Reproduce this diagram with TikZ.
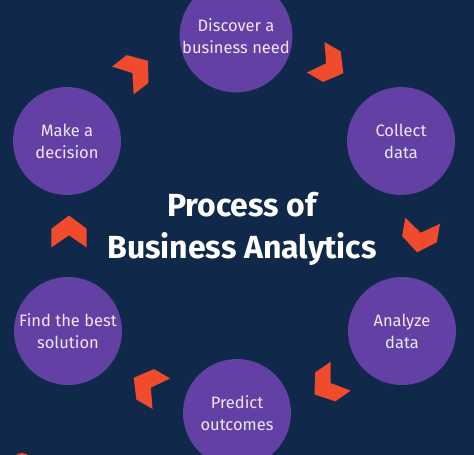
\documentclass[tikz,border=0pt]{standalone}
\usepackage{fontspec}
\setmainfont{Fira Sans}
\usetikzlibrary{positioning}
\definecolor{navy}{HTML}{10294A}
\definecolor{stagefill}{HTML}{6341A4}
\definecolor{stagetext}{HTML}{ECE6F6}
\definecolor{chevred}{HTML}{F04B2C}

\begin{document}
\begin{tikzpicture}[
  x=1pt,y=1pt,
  stage/.style={
    circle,fill=stagefill,minimum size=108pt,inner sep=0pt,
    text=stagetext,align=center,
    font=\fontsize{16.5}{22}\selectfont
  },
  heading/.style={
    text=white,align=center,
    font=\bfseries\fontsize{32}{42}\selectfont
  },
  chevron/.pic={
    \fill[chevred,scale=1.1] (15,0) -- (3,16) -- (-14,16) -- (-3,0)
      -- (-14,-16) -- (3,-16) -- cycle;
  }
]

\fill[navy] (0,0) rectangle (474,-455);
\clip (0,0) rectangle (474,-455);

\node[stage] (discover) at (236,-36) {Discover a\\business need};
\node[stage] (collect) at (401,-141) {Collect\\data};
\node[stage] (analyze) at (402,-331) {Analyze\\data};
\node[stage] (predict) at (237,-413) {Predict\\outcomes};
\node[stage] (solution) at (68,-331) {Find the best\\solution};
\node[stage] (decision) at (67,-141) {Make a\\decision};

\node[heading] (title) at (242,-229) {Process of\\Business Analytics};

% arrows round the ring
\pic[rotate=38] at (135,-71) {chevron};
\pic[rotate=-30] at (329,-65) {chevron};
\pic[rotate=-100] at (420,-236) {chevron};
\pic[rotate=-145] at (328,-385) {chevron};
\pic[rotate=150] at (148,-386) {chevron};
\pic[rotate=90] at (69,-232) {chevron};

\node[circle,fill=chevred,minimum size=20pt,inner sep=0pt] (badge)
  at (22,-463) {};

\end{tikzpicture}
\end{document}
